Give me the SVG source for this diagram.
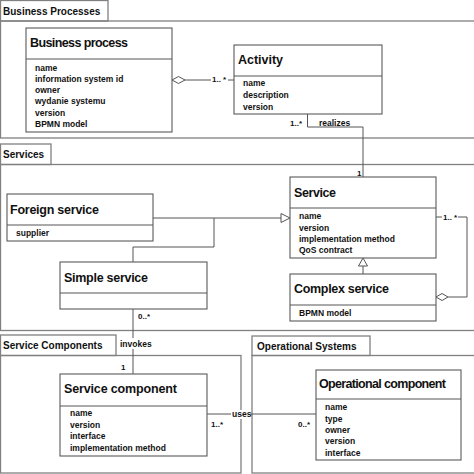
<svg xmlns="http://www.w3.org/2000/svg" width="474" height="474" viewBox="0 0 474 474">
<style>
text{font-family:"Liberation Sans",Arial,sans-serif;font-weight:bold;fill:#111}
.frame{fill:none;stroke:#808080;stroke-width:1.3}
.box{fill:#fff;stroke:#5a5a5a;stroke-width:1.1}
.conn{fill:none;stroke:#555;stroke-width:1}
.pk{font-size:10px}
.ti{font-size:12.5px}
.at{font-size:8.5px}
.mu{font-size:8px}
.bg{fill:#fff;stroke:none}
</style>
<rect width="474" height="474" fill="#fff"/>
<g id="packages">
<g id="pkg-business-processes">
<rect class="frame" x="0.5" y="0.5" width="107.5" height="20.5"/>
<rect class="frame" x="0.5" y="21" width="480" height="117"/>
<text class="pk" x="3" y="15">Business Processes</text>
</g>
<g id="pkg-services">
<rect class="frame" x="0.5" y="144" width="50.5" height="20.5"/>
<rect class="frame" x="0.5" y="164.5" width="480" height="166"/>
<text class="pk" x="3" y="158">Services</text>
</g>
<g id="pkg-service-components">
<rect class="frame" x="0.5" y="335" width="115.5" height="20.5"/>
<rect class="frame" x="0.5" y="355.5" width="240.5" height="117.5"/>
<text class="pk" x="3" y="349">Service Components</text>
</g>
<g id="pkg-operational-systems">
<rect class="frame" x="252" y="336" width="118" height="19.5"/>
<rect class="frame" x="252" y="355.5" width="230" height="117.5"/>
<text class="pk" x="257" y="350">Operational Systems</text>
</g>
</g>
<g id="connectors">
<path class="conn" d="M184.5,80 H234"/>
<polygon points="172,80 178.5,76.5 185,80 178.5,83.5" fill="#fff" stroke="#555" stroke-width="1"/>
<rect class="bg" x="211" y="74" width="17" height="10"/>
<text class="mu" x="212" y="82">1.. *</text>
<path class="conn" d="M307.5,114 V127 H363 V177"/>
<text class="mu" x="290" y="126">1..*</text>
<text class="at" x="319" y="125.5">realizes</text>
<text class="mu" x="357" y="176">1</text>
<path class="conn" d="M153,218 H281"/>
<path class="conn" d="M133,262 V247 H214 V218"/>
<polygon points="290,218 281,213.5 281,222.5" fill="#fff" stroke="#555" stroke-width="1"/>
<path class="conn" d="M363,274 V266"/>
<polygon points="363,258 358.5,266 367.5,266" fill="#fff" stroke="#555" stroke-width="1"/>
<path class="conn" d="M448,297 H467 V217 H436"/>
<polygon points="436,297 442,293.5 448,297 442,300.5" fill="#fff" stroke="#555" stroke-width="1"/>
<rect class="bg" x="442" y="212" width="16" height="9"/>
<text class="mu" x="443" y="220">1.. *</text>
<path class="conn" d="M133,309 V374"/>
<text class="mu" x="138" y="319">0..*</text>
<rect class="bg" x="118" y="338" width="32" height="11"/>
<text class="at" x="120" y="347">invokes</text>
<text class="mu" x="121" y="370">1</text>
<path class="conn" d="M207,414 H316"/>
<rect class="bg" x="231" y="410" width="20" height="9"/>
<text class="at" x="232" y="417">uses</text>
<text class="mu" x="211" y="427">1..*</text>
<text class="mu" x="298" y="427">0..*</text>
</g>
<g id="business-process">
<rect class="box" x="26" y="28" width="146" height="104"/>
<path class="conn" d="M26,59 H172"/>
<text class="ti" x="30" y="47" textLength="98">Business process</text>
<text class="at" x="35" y="71">name</text>
<text class="at" x="35" y="82">information system id</text>
<text class="at" x="35" y="93">owner</text>
<text class="at" x="35" y="104">wydanie systemu</text>
<text class="at" x="35" y="116">version</text>
<text class="at" x="35" y="127">BPMN model</text>
</g>
<g id="activity">
<rect class="box" x="234" y="45" width="148" height="69"/>
<path class="conn" d="M234,76 H382"/>
<text class="ti" x="238" y="64" textLength="45">Activity</text>
<text class="at" x="243" y="86">name</text>
<text class="at" x="243" y="98">description</text>
<text class="at" x="243" y="110">version</text>
</g>
<g id="service">
<rect class="box" x="290" y="177" width="146" height="81"/>
<path class="conn" d="M290,208 H436"/>
<text class="ti" x="294" y="197" textLength="42">Service</text>
<text class="at" x="299" y="219">name</text>
<text class="at" x="299" y="231">version</text>
<text class="at" x="299" y="242">implementation method</text>
<text class="at" x="299" y="253">QoS contract</text>
</g>
<g id="complex-service">
<rect class="box" x="290" y="274" width="146" height="47"/>
<path class="conn" d="M290,305 H436"/>
<text class="ti" x="294" y="293" textLength="95">Complex service</text>
<text class="at" x="299" y="316">BPMN model</text>
</g>
<g id="foreign-service">
<rect class="box" x="7" y="194" width="146" height="47"/>
<path class="conn" d="M7,225 H153"/>
<text class="ti" x="10" y="214" textLength="89">Foreign service</text>
<text class="at" x="16" y="236">supplier</text>
</g>
<g id="simple-service">
<rect class="box" x="60" y="262" width="147" height="47"/>
<path class="conn" d="M60,293 H207"/>
<text class="ti" x="64" y="282" textLength="84">Simple service</text>
</g>
<g id="service-component">
<rect class="box" x="60" y="374" width="147" height="82"/>
<path class="conn" d="M60,406 H207"/>
<text class="ti" x="64" y="393" textLength="113">Service component</text>
<text class="at" x="70" y="416">name</text>
<text class="at" x="70" y="428">version</text>
<text class="at" x="70" y="439">interface</text>
<text class="at" x="70" y="451">implementation method</text>
</g>
<g id="operational-component">
<rect class="box" x="316" y="370" width="145" height="90"/>
<path class="conn" d="M316,399 H461"/>
<text class="ti" x="319" y="388" textLength="127">Operational component</text>
<text class="at" x="325" y="410">name</text>
<text class="at" x="325" y="422">type</text>
<text class="at" x="325" y="433">owner</text>
<text class="at" x="325" y="444">version</text>
<text class="at" x="325" y="456">interface</text>
</g>
</svg>
